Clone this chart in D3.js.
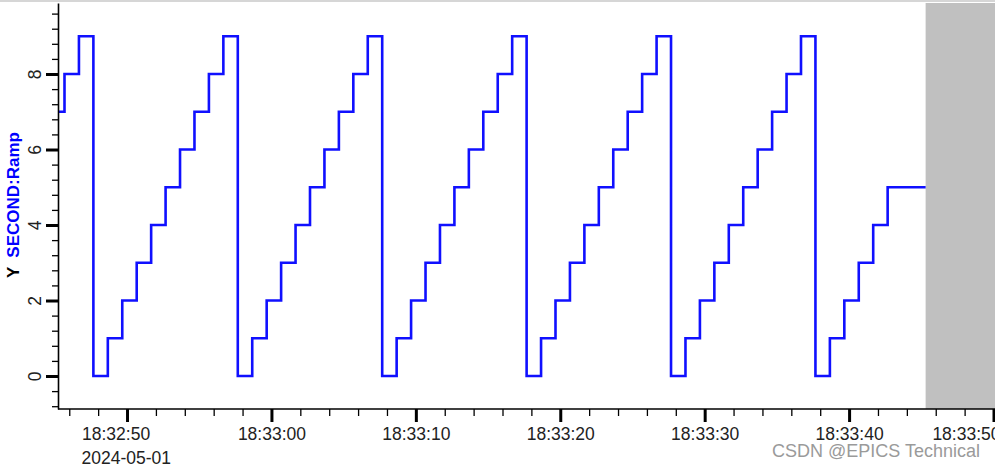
<!DOCTYPE html>
<html>
<head>
<meta charset="utf-8">
<script src="https://cdn.jsdelivr.net/npm/d3@7"></script>
<style>
  html, body { margin: 0; padding: 0; background: #fff; }
  svg { display: block; font-family: "Liberation Sans", Arial, sans-serif; }
</style>
</head>
<body>
<svg id="chart" width="995" height="467"></svg>
<script>
// ---- data (seconds after 18:32:00 on 2024-05-01) ----
const baseDate = "2024-05-01T18:32:00";
const sampleSeconds = [
  44.67, 45.67, 46.67, 47.67, 48.67, 49.67, 50.67, 51.67, 52.67, 53.67,
  54.67, 55.67, 56.67, 57.67, 58.67, 59.67, 60.67, 61.67, 62.67, 63.67,
  64.67, 65.67, 66.67, 67.67, 68.67, 69.67, 70.67, 71.67, 72.67, 73.67,
  74.67, 75.67, 76.67, 77.67, 78.67, 79.67, 80.67, 81.67, 82.67, 83.67,
  84.67, 85.67, 86.67, 87.67, 88.67, 89.67, 90.67, 91.67, 92.67, 93.67,
  94.67, 95.67, 96.67, 97.67, 98.67, 99.67, 100.67, 101.67, 102.67
];
const rampValues = [
  7, 8, 9, 0, 1, 2, 3, 4, 5, 6,
  7, 8, 9, 0, 1, 2, 3, 4, 5, 6,
  7, 8, 9, 0, 1, 2, 3, 4, 5, 6,
  7, 8, 9, 0, 1, 2, 3, 4, 5, 6,
  7, 8, 9, 0, 1, 2, 3, 4, 5, 6,
  7, 8, 9, 0, 1, 2, 3, 4, 5
];
const nowSeconds = 105.3;          // end of archived data (grey area beyond)
const xStartSeconds = 45.22;
const xEndSeconds = 110;
const yMajorTicks = [0, 2, 4, 6, 8];
const yDomain = [-0.874, 9.881];
const dateLabel = "2024-05-01";
const yAxisPrefix = "Y";
const yAxisPV = "SECOND:Ramp";
const watermark = "CSDN @EPICS Technical";

(function () {
const t0 = new Date(baseDate).getTime();
const toDate = s => new Date(t0 + s * 1000);

const data = sampleSeconds.map((s, i) => ({ t: toDate(s), v: rampValues[i] }));
data.push({ t: toDate(nowSeconds), v: rampValues[rampValues.length - 1] });

const pLeft = 58, pRight = 993.5, pTop = 3, pBottom = 409;
const fontPx = "17.5px";

const svg = d3.select("#chart");

const x = d3.scaleTime()
  .domain([toDate(xStartSeconds), toDate(xEndSeconds)])
  .range([pLeft, pRight]);
const y = d3.scaleLinear().domain(yDomain).range([pBottom, pTop]);

// top border line
svg.append("rect").attr("x", 0).attr("y", 0).attr("width", 995).attr("height", 2)
  .attr("fill", "#d6d6d6");

// grey "future" area
const nowX = x(toDate(nowSeconds));
svg.append("rect")
  .attr("x", nowX)
  .attr("y", pTop)
  .attr("width", 995 - nowX)
  .attr("height", pBottom - pTop)
  .attr("fill", "#c0c0c0");

// clip
svg.append("clipPath").attr("id", "clip")
  .append("rect").attr("x", pLeft).attr("y", pTop)
  .attr("width", 995 - pLeft).attr("height", pBottom - pTop);

// line
const line = d3.line()
  .x(d => x(d.t))
  .y(d => y(d.v))
  .curve(d3.curveStepAfter);

svg.append("path")
  .datum(data)
  .attr("clip-path", "url(#clip)")
  .attr("fill", "none")
  .attr("stroke", "#1010ff")
  .attr("stroke-width", 2.6)
  .attr("stroke-linejoin", "miter")
  .attr("d", line);

// ---- Y axis ----
const yMinor = d3.range(-0.8, 9.7, 0.4).filter(v => Math.abs(v / 2 - Math.round(v / 2)) > 1e-6);
const yMinorAxis = d3.axisLeft(y).tickValues(yMinor).tickSize(6).tickSizeOuter(0).tickFormat("");
const gyMinor = svg.append("g").attr("transform", `translate(${pLeft},0)`).call(yMinorAxis);
gyMinor.select(".domain").remove();
gyMinor.selectAll(".tick line").attr("stroke", "#000").attr("stroke-width", 1.3);

const yAxis = d3.axisLeft(y).tickValues(yMajorTicks).tickSize(12).tickSizeOuter(0).tickFormat(d3.format("d"));
const gy = svg.append("g").attr("transform", `translate(${pLeft},0)`).call(yAxis);
gy.select(".domain").attr("stroke", "#000").attr("stroke-width", 1.6);
gy.selectAll(".tick line").attr("stroke", "#000").attr("stroke-width", 3);
gy.selectAll(".tick text")
  .attr("x", 0).attr("y", 0).attr("dy", 0)
  .attr("text-anchor", "middle")
  .attr("transform", "translate(-17,0) rotate(-90)")
  .attr("fill", "#222")
  .style("font-size", fontPx);

// ---- X axis ----
const xMinorAxis = d3.axisBottom(x).ticks(d3.timeSecond.every(2)).tickSize(7).tickSizeOuter(0).tickFormat("");
const gxMinor = svg.append("g").attr("transform", `translate(0,${pBottom})`).call(xMinorAxis);
gxMinor.select(".domain").remove();
gxMinor.selectAll(".tick line").attr("stroke", "#000").attr("stroke-width", 1.3);

const xAxis = d3.axisBottom(x).ticks(d3.timeSecond.every(10)).tickSize(13).tickSizeOuter(0)
  .tickFormat(d3.timeFormat("%H:%M:%S"));
const gx = svg.append("g").attr("transform", `translate(0,${pBottom})`).call(xAxis);
gx.select(".domain").attr("stroke", "#000").attr("stroke-width", 1.6)
  .attr("d", `M${pLeft},0H995`);
gx.selectAll(".tick line").attr("stroke", "#000").attr("stroke-width", 3);
const labelLeft = 81.5;   // first label and date share a left edge
const labelRightEdge = 1000;
const xTickTexts = gx.selectAll(".tick text")
  .attr("y", 31).attr("dy", 0)
  .attr("fill", "#222")
  .style("font-size", fontPx);
const nTicks = xTickTexts.size();
xTickTexts.each(function (d, i) {
  const el = d3.select(this);
  const tx = x(d);
  if (i === 0) {
    el.attr("text-anchor", "start").attr("x", labelLeft - tx);
  } else if (i === nTicks - 1) {
    el.attr("text-anchor", "end").attr("x", labelRightEdge - tx);
  }
});

// date under first label
svg.append("text")
  .attr("x", labelLeft).attr("y", 464)
  .attr("text-anchor", "start")
  .attr("fill", "#222")
  .style("font-size", fontPx)
  .text(dateLabel);

// ---- Y axis title ----
const yt = svg.append("text")
  .attr("transform", "translate(18.5,205) rotate(-90)")
  .attr("text-anchor", "middle")
  .style("font-weight", "bold")
  .style("font-size", "17px");
yt.append("tspan").attr("fill", "#000").text(yAxisPrefix);
yt.append("tspan").attr("fill", "#0000ff").attr("dx", 9).text(yAxisPV);

// ---- watermark ----
svg.append("text")
  .attr("x", 980).attr("y", 457)
  .attr("text-anchor", "end")
  .attr("fill", "#9a9a9a")
  .style("font-size", "18px")
  .text(watermark);
})();
</script>
</body>
</html>
